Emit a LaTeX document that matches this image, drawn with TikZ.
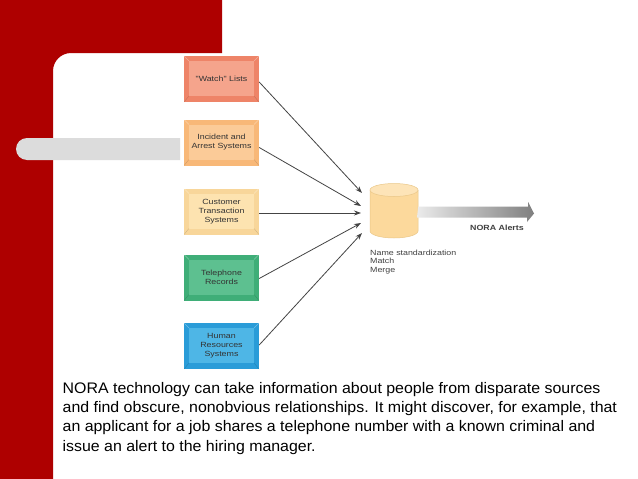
\documentclass[tikz,border=0pt]{standalone}
\usepackage{fontspec}
\setmainfont{Liberation Sans}
\newfontfamily\figfont[FakeStretch=1.18]{Liberation Sans}
\newfontfamily\capfont[FakeStretch=1.04]{Liberation Sans}
\usetikzlibrary{arrows.meta}
\definecolor{slidered}{HTML}{AE0000}
\definecolor{pillgray}{HTML}{DCDCDC}
\definecolor{wedge}{HTML}{EE8468}\definecolor{wface}{HTML}{F5A48C}
\definecolor{iedge}{HTML}{F8B878}\definecolor{iface}{HTML}{FBCB98}
\definecolor{cedge}{HTML}{F8D69A}\definecolor{cface}{HTML}{FDE3B0}
\definecolor{tedge}{HTML}{3FAE78}\definecolor{tface}{HTML}{5DC090}
\definecolor{hedge}{HTML}{2A9CD8}\definecolor{hface}{HTML}{4EB6E6}
\definecolor{cylbody}{HTML}{FCD99C}\definecolor{cyltop}{HTML}{FDE4B8}\definecolor{cylline}{HTML}{EAC788}
\definecolor{arrowgray}{HTML}{444444}
\tikzset{
  srcbox/.style 2 args={rectangle, minimum width=75pt, minimum height=46pt, inner sep=0pt,
    fill=#1, align=center, font=\figfont\fontsize{7.5}{9}\selectfont, text=black!80,
    path picture={
      \fill[#2] ([shift={(5pt,-5pt)}]path picture bounding box.north west) rectangle ([shift={(-5pt,6pt)}]path picture bounding box.south east);
      \draw[white, opacity=0.35, line width=0.4pt] (path picture bounding box.north west) -- ([shift={(5pt,-5pt)}]path picture bounding box.north west);
      \draw[white, opacity=0.35, line width=0.4pt] (path picture bounding box.north east) -- ([shift={(-5pt,-5pt)}]path picture bounding box.north east);
      \draw[black, opacity=0.15, line width=0.4pt] (path picture bounding box.south west) -- ([shift={(5pt,6pt)}]path picture bounding box.south west);
      \draw[black, opacity=0.15, line width=0.4pt] (path picture bounding box.south east) -- ([shift={(-5pt,6pt)}]path picture bounding box.south east);
    }},
  feed/.style={draw=arrowgray, line width=0.8pt, -{Stealth[length=7pt,width=5pt]}},
  smalltext/.style={font=\figfont\fontsize{7.5}{8.3}\selectfont, text=black!75, inner sep=0pt},
}
\begin{document}
\begin{tikzpicture}[x=1pt,y=-1pt]
\useasboundingbox (0,0) rectangle (638,479);
\fill[white] (0,0) rectangle (638,479);
% red frame
\fill[slidered] (0,0) -- (222,0) -- (222,53) -- (71,53) arc[start angle=270,end angle=180,radius=18] -- (53,479) -- (0,479) -- cycle;
% gray pill
\fill[pillgray] (180,138) -- (27,138) arc[start angle=270,end angle=90,radius=11] -- (180,160) -- cycle;
% source boxes
\node[srcbox={wedge}{wface}] (watch) at (221.5,79) {"Watch" Lists};
\node[srcbox={iedge}{iface}] (incident) at (221.5,142.5) {Incident and\\Arrest Systems};
\node[srcbox={cedge}{cface}] (customer) at (221.5,211.5) {Customer\\Transaction\\Systems};
\node[srcbox={tedge}{tface}] (phone) at (221.5,277.5) {Telephone\\Records};
\node[srcbox={hedge}{hface}] (human) at (221.5,346) {Human\\Resources\\Systems};
% cylinder
\node[minimum width=48pt, minimum height=55pt, inner sep=0pt] (cyl) at (394,210.5) {};
\fill[cylbody] (370,190) -- (370,231) arc[start angle=180,end angle=0,x radius=24,y radius=7] -- (418,190) -- cycle;
\draw[cylline, line width=0.5pt] (370,190) -- (370,231) arc[start angle=180,end angle=0,x radius=24,y radius=7] -- (418,190);
\fill[cyltop] (394,190) ellipse[x radius=24,y radius=6.5];
\draw[cylline, line width=0.5pt] (394,190) ellipse[x radius=24,y radius=6.5];
% feed arrows
\coordinate (t1) at (362,193);
\coordinate (t2) at (361,206);
\coordinate (t3) at (361,213);
\coordinate (t4) at (361,223);
\coordinate (t5) at (362,233);
\draw[feed] (watch.east) ++(0,3) -- (t1);
\draw[feed] (incident.east) ++(0,5) -- (t2);
\draw[feed] (customer.east) ++(0,1.5) -- (t3);
\draw[feed] (phone.east) ++(0,1) -- (t4);
\draw[feed] (human.east) ++(0,-1) -- (t5);
% NORA alerts arrow
\coordinate (tip) at (534,213.5);
\shade[left color=black!8, right color=black!50]
  (cyl.east) ++(0,-0.5) ++(0,-3.5) -- ++(110,0) -- ++(0,-4.5) -- (tip) -- ++(-7,8.5) -- ++(0,-4.5) -- ++(-110,0) -- cycle;
\node[smalltext, font=\figfont\fontsize{7.5}{8}\selectfont\bfseries, text=black!75] (alerts) at (497,227.5) {NORA Alerts};
\node[smalltext, anchor=north west, align=left] (steps) at (370,250) {Name standardization\\Match\\Merge};
% caption
\node[anchor=north west, align=left, inner sep=0pt, font=\capfont\fontsize{15.3}{19.3}\selectfont, text=black] (caption) at (62.5,382)
{NORA technology can take information about people from disparate sources\\
and find obscure, nonobvious relationships. It might discover, for example, that\\
an applicant for a job shares a telephone number with a known criminal and\\
issue an alert to the hiring manager.};
\end{tikzpicture}
\end{document}
